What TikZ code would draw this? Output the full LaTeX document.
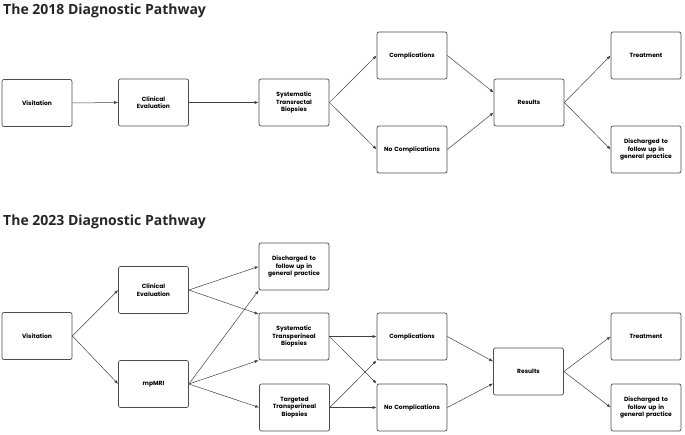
\documentclass[tikz,border=0pt]{standalone}
\usepackage{fontspec}
\setmainfont{Open Sans}
\newfontfamily\boxfont{Poppins}
\usetikzlibrary{arrows.meta}
\tikzset{
  box/.style={draw=black!70, line width=0.7pt, rounded corners=2pt,
    minimum width=70pt, minimum height=47pt, inner sep=0pt,
    text width=66pt, align=center,
    font=\boxfont\fontsize{6}{7.5}\selectfont\bfseries},
  conn/.style={draw=black!75, line width=0.5pt, -{Latex[length=4pt,width=3pt]}},
  title/.style={anchor=base west, inner sep=0pt, font=\fontsize{14}{17}\selectfont\bfseries, text=black!85}
}
\begin{document}
\begin{tikzpicture}[x=1pt,y=-1pt]
\useasboundingbox (0,0) rectangle (685,435);
% ---- 2018 ----
\node[title] (t1) at (3,14.5) {The 2018 Diagnostic Pathway};
\node[box] (av) at (37,103) {Visitation};
\node[box] (ac) at (153.5,102.5) {Clinical\\Evaluation};
\node[box] (as) at (294,102.5) {Systematic\\Transrectal\\Biopsies};
\node[box] (acp) at (412,55.5) {Complications};
\node[box] (anc) at (412,149.5) {No Complications};
\node[box] (ar) at (529,102.5) {Results};
\node[box] (at) at (646,55.5) {Treatment};
\node[box] (ad) at (646,149.5) {Discharged to\\follow up in\\general practice};
\draw[conn] (av.east) -- (ac.west);
\draw[conn] (ac.east) -- (as.west);
\draw[conn] (as.east) -- (acp.west);
\draw[conn] (as.east) -- (anc.west);
\draw[conn] (acp.east) -- ([yshift=10pt]ar.west);
\draw[conn] (anc.east) -- ([yshift=-10pt]ar.west);
\draw[conn] (ar.east) -- (at.west);
\draw[conn] (ar.east) -- (ad.west);
% ---- 2023 ----
\node[title] (t2) at (3,225.5) {The 2023 Diagnostic Pathway};
\node[box] (bv) at (37,336) {Visitation};
\node[box] (bc) at (153.5,290) {Clinical\\Evaluation};
\node[box] (bm) at (153.5,384) {mpMRI};
\node[box] (bd1) at (294,266.5) {Discharged to\\follow up in\\general practice};
\node[box] (bs) at (294,336.5) {Systematic\\Transperineal\\Biopsies};
\node[box] (btg) at (294.5,407.5) {Targeted\\Transperineal\\Biopsies};
\node[box] (bcp) at (412,336.5) {Complications};
\node[box] (bnc) at (412,407.5) {No Complications};
\node[box] (br) at (528.5,371.5) {Results};
\node[box] (bt) at (646,336.5) {Treatment};
\node[box] (bd2) at (646,407.5) {Discharged to\\follow up in\\general practice};
\draw[conn] (bv.east) -- (bc.west);
\draw[conn] (bv.east) -- (bm.west);
\draw[conn] (bc.east) -- (bd1.west);
\draw[conn] (bc.east) -- ([yshift=-1.5pt]bs.north west);
\draw[conn] (bm.east) -- (bd1.south west);
\draw[conn] (bm.east) -- (bs.south west);
\draw[conn] (bm.east) -- (btg.west);
\draw[conn] (bs.east) -- (bcp.west);
\draw[conn] (bs.east) -- (bnc.north west);
\draw[conn] (btg.east) -- (bnc.west);
\draw[conn] (btg.east) -- (bcp.south west);
\draw[conn] (bcp.east) -- ([yshift=10pt]br.west);
\draw[conn] (bnc.east) -- ([yshift=-12pt]br.west);
\draw[conn] (br.east) -- (bt.west);
\draw[conn] (br.east) -- (bd2.west);
\end{tikzpicture}
\end{document}
